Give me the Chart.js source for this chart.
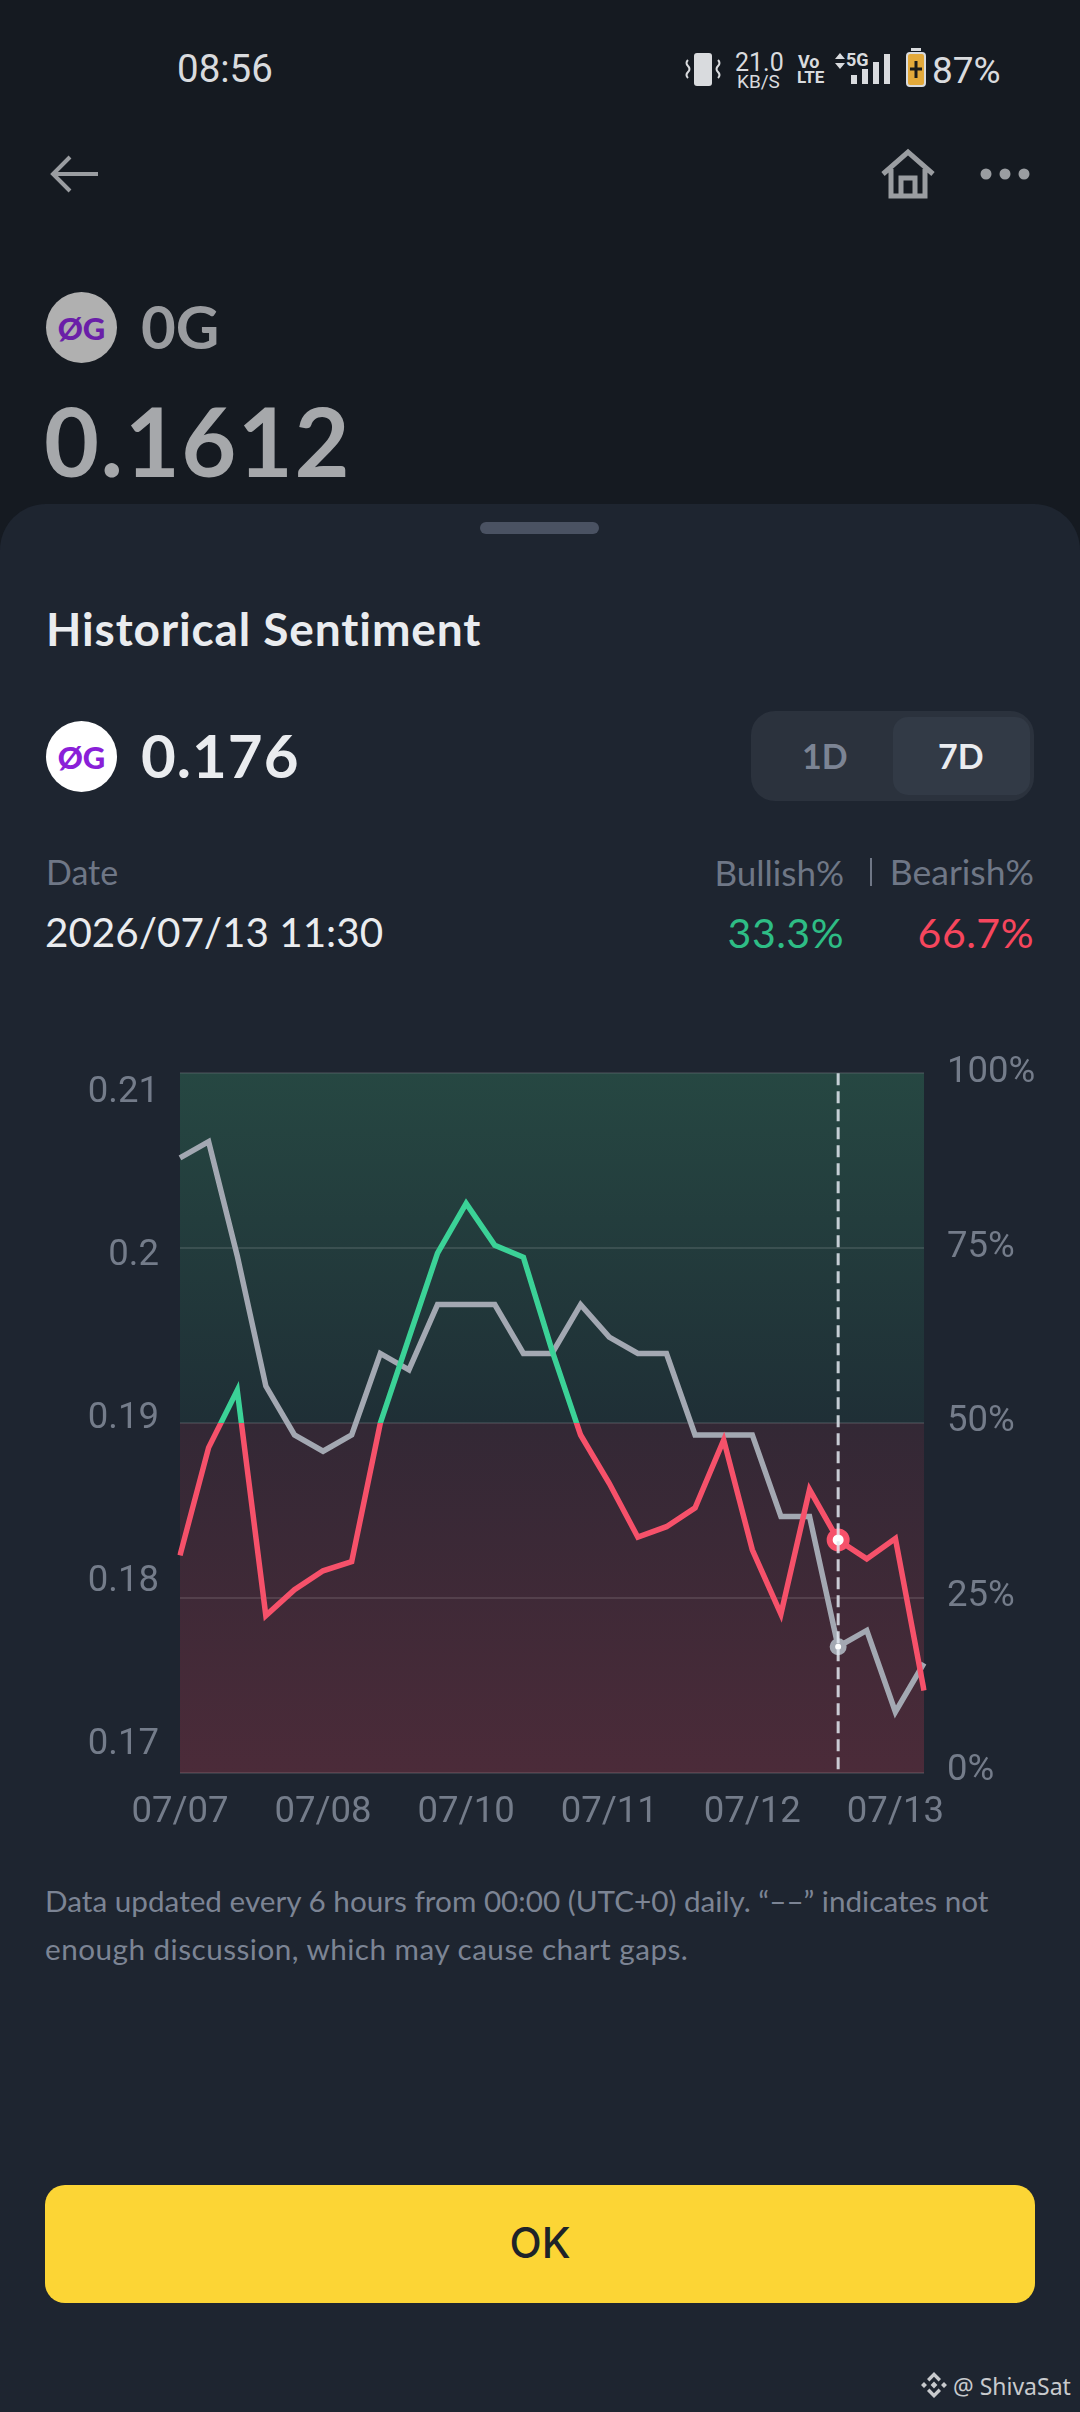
<!DOCTYPE html>
<html>
<head>
<meta charset="utf-8">
<title>Historical Sentiment</title>
<script src="https://cdn.jsdelivr.net/npm/chart.js@4"></script>
<style>
    html, body { margin: 0; padding: 0; background: #151a21; }
    #page { position: relative; width: 1080px; height: 2412px; overflow: hidden; background: #151a21; font-family: Lato, "Noto Sans", sans-serif; }
    .t { position: absolute; white-space: nowrap; line-height: 1; transform: translateY(-50%); }
    .box { position: absolute; }
    #sheet { position: absolute; left: 0; top: 504px; width: 1080px; height: 1908px; background: #1e2530; border-radius: 46px 46px 0 0; }
    #chartWrap { position: absolute; left: 0; top: 1040px; width: 1080px; height: 800px; }
    svg { position: absolute; overflow: visible; }
</style>
</head>
<body>
<div id="page">
    <!-- 狀態列 -->
    <div class="t" style="left:177px;top:69px;font:38.5px Roboto;line-height:1;color:#d9dbde">08:56</div>
    <svg style="left:685px;top:52px" width="36" height="36" viewBox="0 0 36 36">
        <rect x="9" y="1" width="18" height="33" rx="3" fill="#d9dbde"/>
        <path d="M3 8q-3 3 0 6t0 6 0 6M33 8q3 3 0 6t0 6 0 6" stroke="#d9dbde" stroke-width="2" fill="none"/>
    </svg>
    <div class="t" style="left:735px;top:62px;font:25px Roboto;line-height:1;color:#d9dbde">21.0</div>
    <div class="t" style="left:737px;top:81px;font:19px Roboto;line-height:1;color:#d9dbde">KB/S</div>
    <div class="t" style="left:798px;top:62px;font:bold 18px Roboto;line-height:1;color:#d9dbde">Vo</div>
    <div class="t" style="left:797px;top:77px;font:bold 17px Roboto;line-height:1;color:#d9dbde">LTE</div>
    <svg style="left:834px;top:52px" width="62" height="36" viewBox="0 0 62 36">
        <path d="M1 7l5-6 5 6zM1 11l5 6 5-6z" fill="#d9dbde"/>
        <rect x="17" y="23" width="6" height="9" fill="#d9dbde"/>
        <rect x="28" y="17" width="6" height="15" fill="#d9dbde"/>
        <rect x="39" y="10" width="6" height="22" fill="#d9dbde"/>
        <rect x="50" y="2" width="6" height="30" fill="#d9dbde"/>
    </svg>
    <div class="t" style="left:846px;top:60px;font:bold 18px Roboto;line-height:1;color:#d9dbde">5G</div>
    <svg style="left:905px;top:48px" width="22" height="40" viewBox="0 0 22 40">
        <rect x="6" y="0" width="10" height="3" fill="#d9dbde"/>
        <rect x="2" y="5" width="18" height="33" rx="3" fill="#e3a93a" stroke="#d9dbde" stroke-width="2"/>
        <path d="M11 13v17M5 21h12" stroke="#1a1a1a" stroke-width="3"/>
    </svg>
    <div class="t" style="left:932px;top:70px;font:37px Roboto;line-height:1;color:#d9dbde">87%</div>

    <!-- 導航 -->
    <svg style="left:50px;top:155px" width="50" height="38" viewBox="0 0 50 38">
        <path d="M48 19H4M20 2L3 19l17 17" stroke="#9a9da1" stroke-width="4" fill="none"/>
    </svg>
    <svg style="left:880px;top:150px" width="56" height="48" viewBox="0 0 56 48">
        <path d="M3 24L28 2l25 22M11 19v27h34V19M21 46V28h14v18" stroke="#9a9da1" stroke-width="5" fill="none"/>
    </svg>
    <svg style="left:980px;top:166px" width="50" height="16" viewBox="0 0 50 16">
        <circle cx="6" cy="8" r="5.5" fill="#9a9da1"/><circle cx="25" cy="8" r="5.5" fill="#9a9da1"/><circle cx="44" cy="8" r="5.5" fill="#9a9da1"/>
    </svg>

    <!-- 幣種 -->
    <div class="box" style="left:46px;top:292px;width:71px;height:71px;border-radius:50%;background:#b0b0b0"></div>
    <div class="t" style="left:81.5px;top:328px;width:0;display:flex;justify-content:center;font:900 31px Lato;line-height:1;color:#6a1fa8">ØG</div>
    <div class="t" style="left:141px;top:326px;font:bold 60px Lato;line-height:1;color:#9a9ca0">0G</div>
    <div class="t" style="left:44px;top:440px;font:bold 95px Lato;line-height:1;letter-spacing:1.5px;color:#a6a8ab">0.1612</div>

    <div id="sheet"></div>
    <div class="box" style="left:480px;top:522px;width:119px;height:12px;border-radius:6px;background:#4a5262"></div>

    <div class="t" style="left:46px;top:629px;font:bold 46px Lato;line-height:1;letter-spacing:0.9px;color:#eaecef">Historical Sentiment</div>

    <div class="box" style="left:46px;top:721px;width:71px;height:71px;border-radius:50%;background:#ffffff"></div>
    <div class="t" style="left:81.5px;top:757px;width:0;display:flex;justify-content:center;font:900 31px Lato;line-height:1;color:#8a1fd8">ØG</div>
    <div class="t" style="left:141px;top:755px;font:bold 60px Lato;line-height:1;letter-spacing:1px;color:#eaecef">0.176</div>

    <div class="box" style="left:751px;top:711px;width:283px;height:90px;border-radius:24px;background:#2b323d"></div>
    <div class="box" style="left:893px;top:717px;width:137px;height:78px;border-radius:15px;background:#323a46"></div>
    <div class="t" style="left:802px;top:756px;font:bold 34px Lato;line-height:1;color:#7c8494">1D</div>
    <div class="t" style="left:938px;top:756px;font:bold 34px Lato;line-height:1;color:#eaecef">7D</div>

    <div class="t" style="left:46px;top:872px;font:34px Lato;line-height:1;color:#6f7786">Date</div>
    <div class="t" style="right:236px;top:872px;font:35px Lato;line-height:1;color:#6f7786">Bullish%</div>
    <div class="box" style="left:870px;top:858px;width:2px;height:28px;background:#6f7786"></div>
    <div class="t" style="right:46px;top:872px;font:35.5px Lato;line-height:1;color:#6f7786">Bearish%</div>
    <div class="t" style="left:45px;top:932px;font:40.4px Lato;line-height:1;color:#eaecef">2026/07/13 11:30</div>
    <div class="t" style="right:236px;top:932px;font:41px Lato;line-height:1;letter-spacing:0.5px;color:#2ebd85">33.3%</div>
    <div class="t" style="right:46px;top:932px;font:41px Lato;line-height:1;letter-spacing:0.5px;color:#f6465d">66.7%</div>

    <div id="chartWrap"><canvas id="sentimentChart" width="1080" height="800"></canvas></div>

    <div class="t" style="left:45px;top:1901px;font:29.7px Lato;line-height:1;color:#7c8494">Data updated every 6 hours from 00:00 (UTC+0) daily. “––” indicates not</div>
    <div class="t" style="left:45px;top:1949px;font:29.7px Lato;line-height:1;letter-spacing:0.47px;color:#7c8494">enough discussion, which may cause chart gaps.</div>

    <div class="box" style="left:45px;top:2185px;width:990px;height:118px;border-radius:20px;background:#fcd535"></div>
    <div class="t" style="left:540px;top:2243px;width:0;display:flex;justify-content:center;font:500 42px Inter;line-height:1;color:#1e2329">OK</div>

    <svg style="left:920px;top:2371px" width="28" height="28" viewBox="0 0 28 28">
        <path d="M14 1l7 7-2.4 2.4L14 5.8 9.4 10.4 7 8zM14 27l7-7-2.4-2.4L14 22.2l-4.6-4.6L7 20zM14 10.6l3.4 3.4-3.4 3.4-3.4-3.4zM4 11l3 3-3 3-3-3zM24 11l3 3-3 3-3-3z" fill="#c8cacd"/>
    </svg>
    <div class="t" style="left:953px;top:2386px;font:23px 'Noto Sans';line-height:1;color:#c8cacd">@ ShivaSat</div>
</div>

<script>
// 圖表數據
const categories = ['07/07', '', '', '', '', '07/08', '', '', '', '', '07/10', '', '', '', '', '07/11', '', '', '', '', '07/12', '', '', '', '', '07/13', ''];
const priceValues = [0.206, 0.207, 0.2, 0.192, 0.189, 0.188, 0.189, 0.194, 0.193, 0.197, 0.197, 0.197, 0.194, 0.194, 0.197, 0.195, 0.194, 0.194, 0.189, 0.189, 0.189, 0.184, 0.184, 0.176, 0.177, 0.172, 0.175];
const bullishValues = [31.1, 46.5, 54.7, 22.5, 26.2, 28.9, 30.2, 50, 62.2, 74.3, 81.4, 75.4, 73.7, 60.4, 48.3, 41.4, 33.7, 35.2, 37.9, 47.6, 31.9, 22.7, 40.5, 33.3, 30.6, 33.5, 11.8];
const priceTicks = [0.17, 0.18, 0.19, 0.2, 0.21];
const percentTicks = [0, 25, 50, 75, 100];
const selectedIndex = 23;

const labelColor = '#747c8a';
const labelFont = { family: 'Roboto', size: 36.5, lineHeight: 1 };

// 綠紅分界的線條顏色
function thresholdStroke(context) {
    const { chart } = context;
    if (!chart.chartArea) return '#f6465d';
    const { top, bottom } = chart.chartArea;
    const mid = chart.scales.yPercent.getPixelForValue(50);
    const stop = (mid - top) / (bottom - top);
    const g = chart.ctx.createLinearGradient(0, top, 0, bottom);
    g.addColorStop(0, '#3bd297');
    g.addColorStop(stop, '#3bd297');
    g.addColorStop(stop, '#f6516a');
    g.addColorStop(1, '#f6516a');
    return g;
}

// 背景色塊
const zoneBackground = {
    id: 'zoneBackground',
    beforeDraw(chart) {
        const { ctx, chartArea, scales } = chart;
        const top = scales.yPercent.getPixelForValue(100);
        const mid = scales.yPercent.getPixelForValue(50);
        const bottom = scales.yPercent.getPixelForValue(0);
        const w = chartArea.right - chartArea.left;
        let g = ctx.createLinearGradient(0, top, 0, mid);
        g.addColorStop(0, '#264742');
        g.addColorStop(1, '#1f2f36');
        ctx.fillStyle = g;
        ctx.fillRect(chartArea.left, top, w, mid - top);
        g = ctx.createLinearGradient(0, mid, 0, bottom);
        g.addColorStop(0, '#332835');
        g.addColorStop(1, '#4b2b39');
        ctx.fillStyle = g;
        ctx.fillRect(chartArea.left, mid, w, bottom - mid);
    }
};

// 選中位置的虛線
const crosshair = {
    id: 'crosshair',
    afterDatasetsDraw(chart) {
        const { ctx, chartArea, scales } = chart;
        const x = scales.x.getPixelForValue(selectedIndex);
        ctx.save();
        ctx.strokeStyle = 'rgba(226,232,240,0.85)';
        ctx.lineWidth = 3;
        ctx.setLineDash([12, 6]);
        ctx.beginPath();
        ctx.moveTo(x, chartArea.top);
        ctx.lineTo(x, chartArea.bottom);
        ctx.stroke();
        ctx.restore();
    }
};

new Chart(document.getElementById('sentimentChart'), {
    type: 'line',
    data: {
        labels: categories,
        datasets: [
            {
                label: 'Bullish%',
                data: bullishValues,
                yAxisID: 'yPercent',
                borderColor: thresholdStroke,
                borderWidth: 5.5,
                borderJoinStyle: 'miter',
                tension: 0,
                order: 1,
                pointRadius: ctx => ctx.dataIndex === selectedIndex ? 8.5 : 0,
                pointBorderWidth: 6,
                pointBackgroundColor: '#ffffff',
                pointBorderColor: '#f6516a'
            },
            {
                label: 'Price',
                data: priceValues,
                yAxisID: 'yPrice',
                borderColor: '#a3a8b2',
                borderWidth: 5.5,
                borderJoinStyle: 'miter',
                tension: 0,
                order: 2,
                pointRadius: ctx => ctx.dataIndex === selectedIndex ? 5.75 : 0,
                pointBorderWidth: 5.5,
                pointBackgroundColor: '#ffffff',
                pointBorderColor: '#a3a8b2'
            }
        ]
    },
    options: {
        responsive: false,
        animation: false,
        devicePixelRatio: 1,
        layout: { padding: { top: 23 } },
        events: [],
        plugins: { legend: { display: false }, tooltip: { enabled: false } },
        scales: {
            x: {
                offset: false,
                grid: { display: false },
                border: { display: false },
                afterFit: s => { s.height = 67; },
                ticks: {
                    autoSkip: false,
                    maxRotation: 0,
                    padding: 14,
                    color: labelColor,
                    font: labelFont
                }
            },
            yPrice: {
                position: 'left',
                min: 0.16825,
                max: 0.2112,
                grid: { display: false },
                border: { display: false },
                afterFit: s => { s.width = 180; },
                afterBuildTicks: s => { s.ticks = priceTicks.map(v => ({ value: v })); },
                ticks: {
                    padding: 13,
                    color: labelColor,
                    font: labelFont,
                    callback: v => String(v)
                }
            },
            yPercent: {
                position: 'right',
                min: 0,
                max: 100,
                border: { display: false },
                afterFit: s => { s.width = 0; },
                afterBuildTicks: s => { s.ticks = percentTicks.map(v => ({ value: v })); },
                grid: { color: 'rgba(255,255,255,0.11)', lineWidth: 2, drawTicks: false },
                ticks: { display: false }
            },
            // 右側標籤比格線略高，單獨一個軸
            yPercentLabels: {
                position: 'right',
                min: -0.3,
                max: 100,
                grid: { display: false },
                border: { display: false },
                afterFit: s => { s.width = 156; },
                afterBuildTicks: s => { s.ticks = percentTicks.map(v => ({ value: v })); },
                ticks: {
                    padding: 15,
                    color: labelColor,
                    font: labelFont,
                    callback: v => v + '%'
                }
            }
        }
    },
    plugins: [zoneBackground, crosshair]
});
</script>
</body>
</html>
